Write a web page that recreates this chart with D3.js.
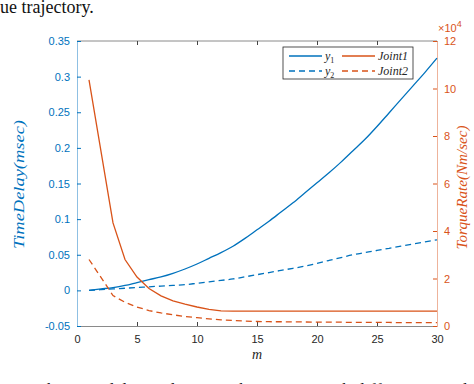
<!DOCTYPE html>
<html>
<head>
<meta charset="utf-8">
<script src="https://cdn.jsdelivr.net/npm/d3@7"></script>
<style>
  body { margin: 0; background: #fff; }
  svg { display: block; }
  .tick text { font-family: "Liberation Sans", Arial, sans-serif; font-size: 11px; }
</style>
</head>
<body>
<div id="chart"></div>
<script>
// m values shared by all four series
const mValues = [1,2,3,4,5,6,7,8,9,10,11,12,13,14,15,16,17,18,19,20,21,22,23,24,25,26,27,28,29,30];

// left axis: time delay (msec)
const y1 = [0.000,0.002,0.004,0.007,0.011,0.015,0.019,0.024,0.030,0.037,0.045,0.053,0.062,0.073,0.085,0.097,0.110,0.123,0.137,0.151,0.165,0.180,0.196,0.212,0.230,0.249,0.268,0.287,0.306,0.326];
const y2 = [0.000,0.001,0.002,0.003,0.004,0.005,0.006,0.007,0.008,0.010,0.012,0.014,0.016,0.019,0.022,0.025,0.028,0.031,0.034,0.038,0.042,0.046,0.050,0.053,0.056,0.059,0.062,0.065,0.068,0.071];

// right axis: torque rate (x 10^4 Nm/sec)
const joint1 = [10.36,7.35,4.34,2.80,2.06,1.58,1.27,1.06,0.92,0.80,0.70,0.64,0.63,0.63,0.63,0.63,0.63,0.63,0.63,0.63,0.63,0.63,0.63,0.63,0.63,0.63,0.63,0.63,0.63,0.63];
const joint2 = [2.80,2.05,1.28,1.00,0.80,0.65,0.55,0.47,0.40,0.35,0.30,0.26,0.23,0.21,0.19,0.18,0.18,0.17,0.17,0.16,0.16,0.16,0.15,0.15,0.15,0.15,0.14,0.14,0.14,0.14];

const xTicks = [0,5,10,15,20,25,30];
const leftTicks = [-0.05,0,0.05,0.1,0.15,0.2,0.25,0.3,0.35];
const rightTicks = [0,2,4,6,8,10,12];

const blue = "#0072BD", orange = "#D95319";
const serif = "'Liberation Serif', 'DejaVu Serif', serif";

let width = 474, height = 384;
let margin = {top: 41, right: 37, bottom: 58, left: 77};
let w = width - margin.left - margin.right,
    h = height - margin.top - margin.bottom;

let svg = d3.select("#chart").append("svg")
  .attr("width", width)
  .attr("height", height);

// bits of the surrounding paper text
svg.append("text")
  .attr("x", -9).attr("y", 13)
  .style("font-family", serif).style("font-size", "18px").style("fill", "#111")
  .text("que trajectory.");
svg.append("text")
  .attr("x", 18).attr("y", 395)
  .style("font-family", serif).style("font-size", "17px").style("fill", "#111")
  .attr("textLength", 460)
  .text("8.   The time delay and torque change rate with different m and I");

let g = svg.append("g")
  .attr("transform", "translate(" + margin.left + "," + margin.top + ")");

let x = d3.scaleLinear().domain([0, 30]).range([0, w]);
let yL = d3.scaleLinear().domain([-0.05, 0.35]).range([h, 0]);
let yR = d3.scaleLinear().domain([0, 12]).range([h, 0]);

// box top line
g.append("line")
  .attr("x1", 0).attr("x2", w).attr("y1", 0).attr("y2", 0)
  .style("stroke", "#8a8a8a").style("stroke-width", 1);

// bottom axis (ticks inward)
let xAxis = g.append("g")
  .attr("transform", "translate(0," + h + ")")
  .call(d3.axisBottom(x).tickValues(xTicks).tickSize(-4).tickPadding(9).tickFormat(d3.format("d")));
xAxis.select(".domain").style("stroke", "#8a8a8a");
xAxis.selectAll(".tick line").style("stroke", "#444");
xAxis.selectAll(".tick text").style("fill", "#262626");

// top ticks
g.append("g")
  .call(d3.axisTop(x).tickValues(xTicks).tickSize(-4).tickFormat(""))
  .call(a => a.select(".domain").remove())
  .selectAll(".tick line").style("stroke", "#444");

// left axis
let leftAxis = g.append("g")
  .call(d3.axisLeft(yL).tickValues(leftTicks).tickSize(-4).tickPadding(7).tickFormat(d => d === 0 ? "0" : String(+d.toFixed(2))));
leftAxis.select(".domain").style("stroke", "#8fc0e3");
leftAxis.selectAll(".tick line").style("stroke", blue);
leftAxis.selectAll(".tick text").style("fill", blue);

// right axis
let rightAxis = g.append("g")
  .attr("transform", "translate(" + w + ",0)")
  .call(d3.axisRight(yR).tickValues(rightTicks).tickSize(-4).tickPadding(7));
rightAxis.select(".domain").style("stroke", "#eeb39b");
rightAxis.selectAll(".tick line").style("stroke", orange);
rightAxis.selectAll(".tick text").style("fill", orange);

// x10^4 exponent
let ex = g.append("text")
  .attr("x", w + 1).attr("y", -9)
  .style("font-family", "'Liberation Sans', Arial, sans-serif")
  .style("font-size", "11px").style("fill", orange);
ex.append("tspan").text("\u00d710");
ex.append("tspan").attr("dy", -5).style("font-size", "9px").text("4");

// axis labels
g.append("text")
  .attr("transform", "translate(" + (24 - margin.left) + "," + (h / 2 + 1) + ") rotate(-90)")
  .attr("text-anchor", "middle")
  .attr("textLength", 129).attr("lengthAdjust", "spacingAndGlyphs")
  .style("font-family", serif).style("font-style", "italic")
  .style("font-size", "14px").style("fill", blue)
  .text("TimeDelay(msec)");

g.append("text")
  .attr("transform", "translate(" + (w + 30) + "," + (h / 2 + 4) + ") rotate(-90)")
  .attr("text-anchor", "middle")
  .attr("textLength", 124).attr("lengthAdjust", "spacingAndGlyphs")
  .style("font-family", serif).style("font-style", "italic")
  .style("font-size", "14px").style("fill", orange)
  .text("TorqueRate(Nm/sec)");

g.append("text")
  .attr("x", w / 2).attr("y", h + 33)
  .attr("text-anchor", "middle")
  .style("font-family", serif).style("font-style", "italic")
  .style("font-size", "14px").style("fill", "#262626")
  .text("m");

// lines
function drawLine(values, yScale, color, dash, smooth) {
  let line = d3.line()
    .x((d, i) => x(mValues[i]))
    .y(d => yScale(d))
    .curve(smooth ? d3.curveMonotoneX : d3.curveLinear);
  g.append("path")
    .datum(values)
    .attr("d", line)
    .style("fill", "none")
    .style("stroke", color)
    .style("stroke-width", 1.3)
    .style("stroke-dasharray", dash ? "6,4" : null);
}

drawLine(y1, yL, blue, false, true);
drawLine(y2, yL, blue, true, true);
drawLine(joint1, yR, orange, false, false);
drawLine(joint2, yR, orange, true, false);

// legend
let lg = g.append("g").attr("transform", "translate(" + (283 - margin.left) + "," + (47 - margin.top) + ")");
lg.append("rect")
  .attr("width", 130).attr("height", 32)
  .style("fill", "#fff").style("stroke", "#262626").style("stroke-width", 0.8);

let legendItems = [
  {name: "y", sub: "1", color: blue, dash: false, col: 0, row: 0},
  {name: "Joint1", color: orange, dash: false, col: 1, row: 0},
  {name: "y", sub: "2", color: blue, dash: true, col: 0, row: 1},
  {name: "Joint2", color: orange, dash: true, col: 1, row: 1}
];
legendItems.forEach(it => {
  let lx = 6 + it.col * 53, ly = 9 + it.row * 15;
  lg.append("line")
    .attr("x1", lx).attr("x2", lx + 33).attr("y1", ly).attr("y2", ly)
    .style("stroke", it.color).style("stroke-width", 1.3)
    .style("stroke-dasharray", it.dash ? "6,4" : null);
  let t = lg.append("text")
    .attr("x", lx + 36).attr("y", ly + 4)
    .style("font-family", serif).style("font-style", "italic")
    .style("font-size", "12px").style("fill", "#262626");
  t.append("tspan").text(it.name);
  if (it.sub) t.append("tspan").attr("dy", 3).style("font-size", "8px").style("font-style", "normal").text(it.sub);
});
</script>
</body>
</html>
